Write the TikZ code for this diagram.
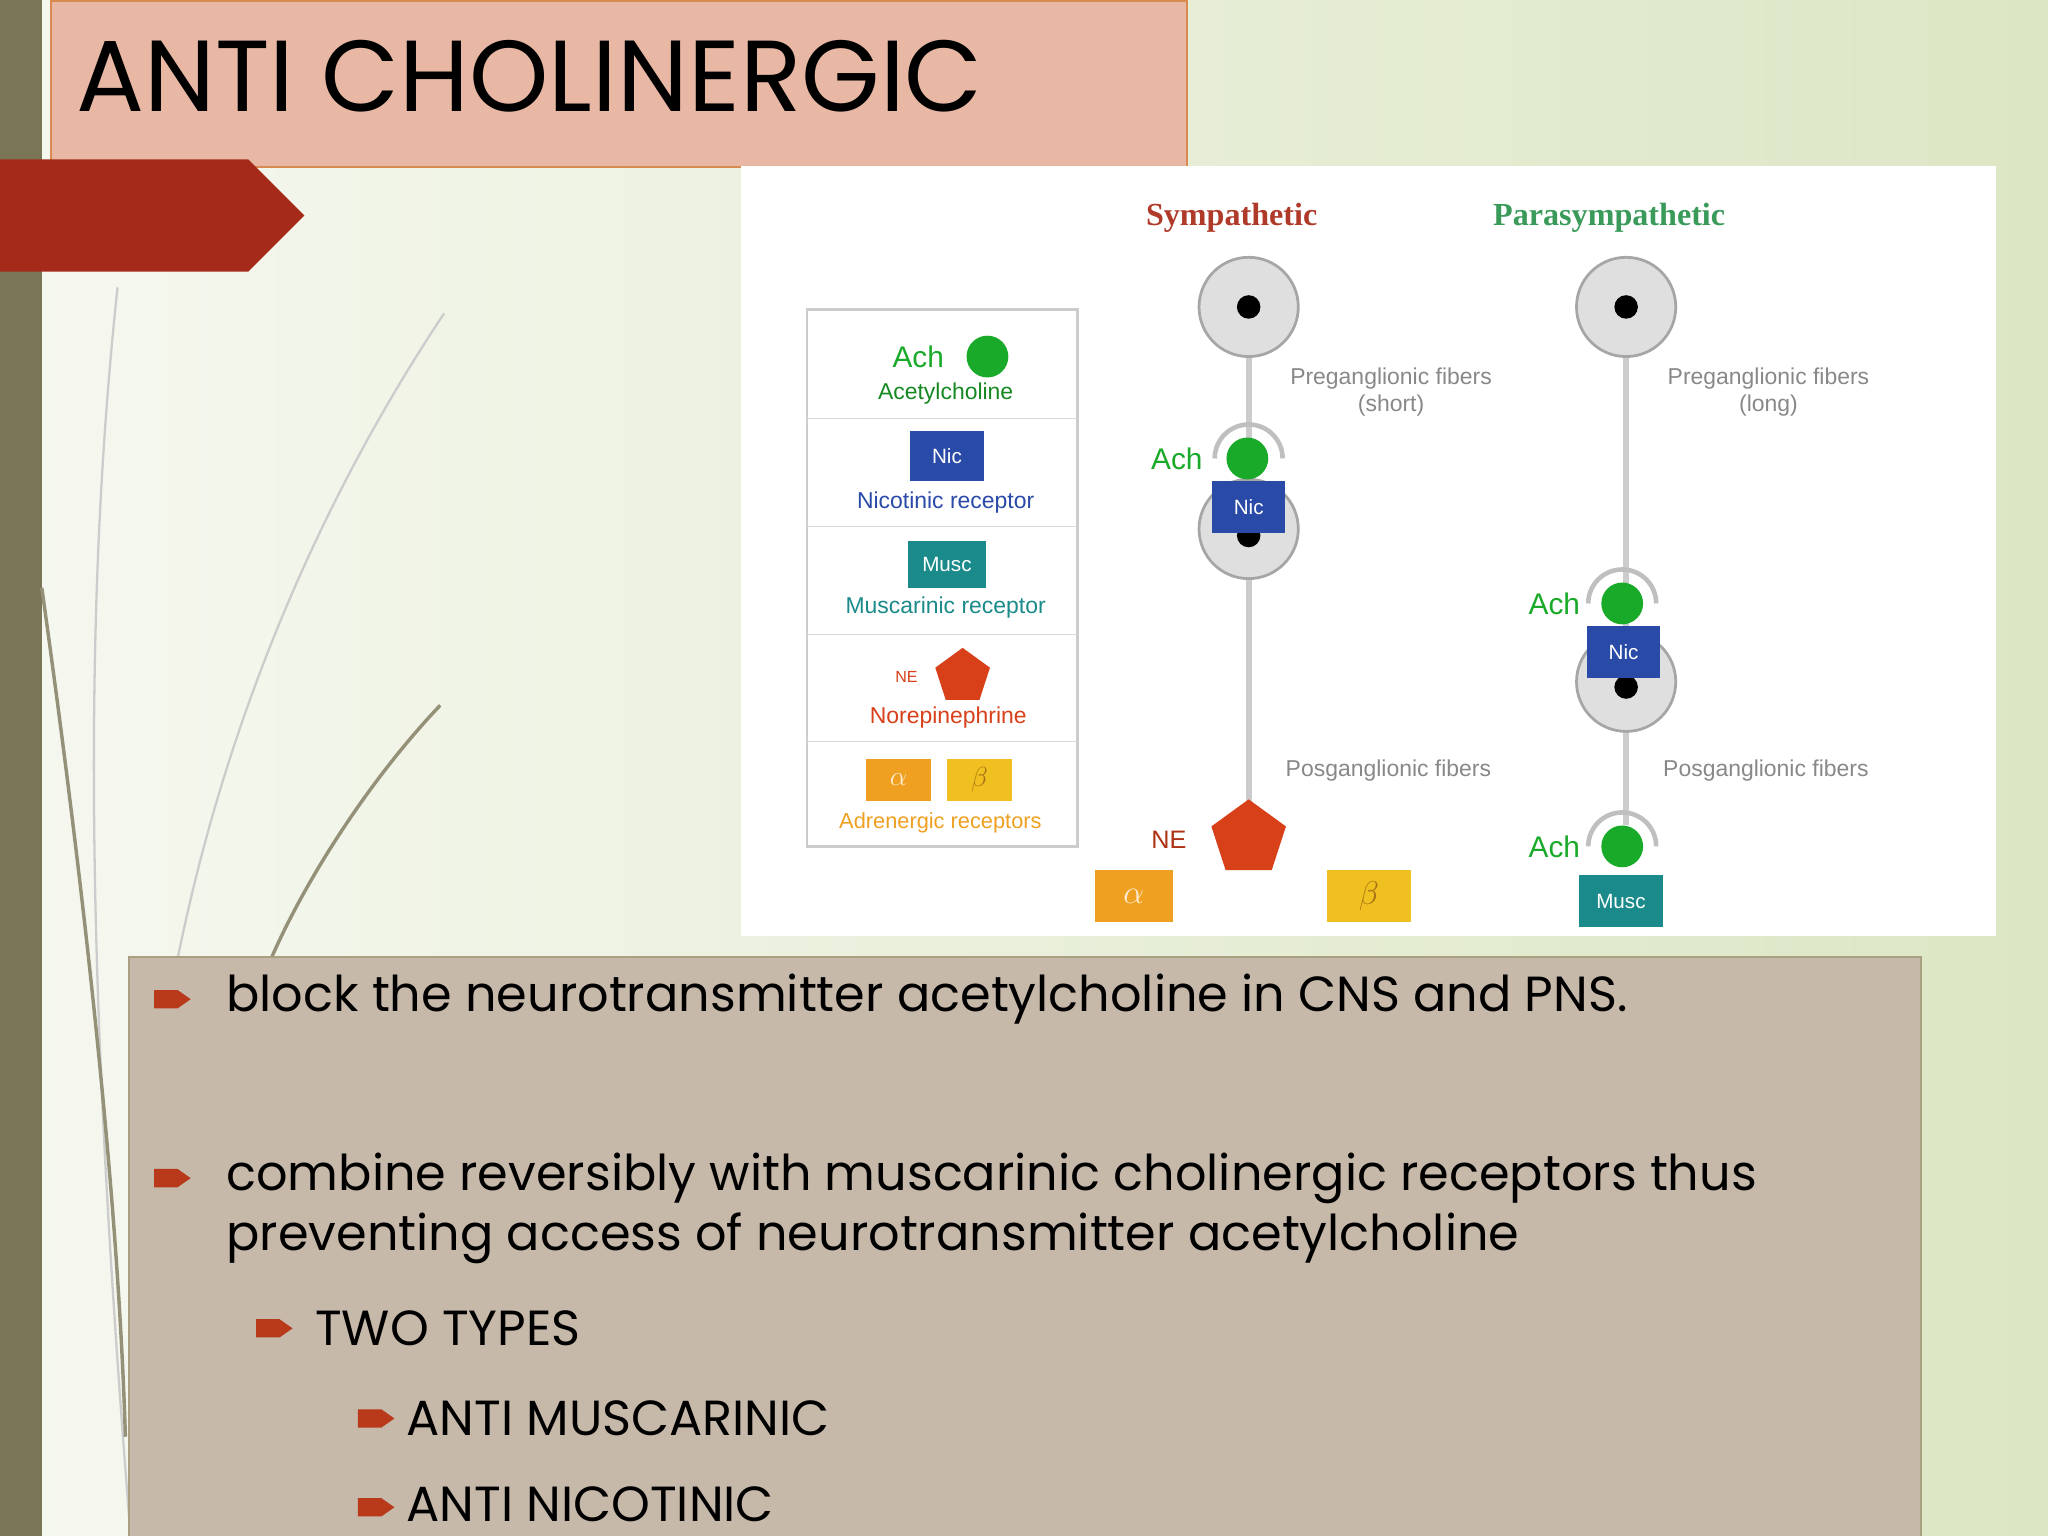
\documentclass[tikz,border=0pt]{standalone}
\usepackage{fontspec}
\setmainfont{Poppins}
\newfontfamily\dfont{Liberation Sans}
\newfontfamily\sfont{Liberation Serif}
\usetikzlibrary{shapes.geometric}
\definecolor{olive}{HTML}{7A7556}
\definecolor{titlebg}{HTML}{E8B8A4}
\definecolor{titlebd}{HTML}{D88A50}
\definecolor{redarrow}{HTML}{A52A1A}
\definecolor{boxbg}{HTML}{C7B9AA}
\definecolor{boxbd}{HTML}{A8A080}
\definecolor{bul}{HTML}{B83A1A}
\definecolor{achg}{HTML}{1AAA2A}
\definecolor{nicb}{HTML}{2A4AA8}
\definecolor{musct}{HTML}{1A8A8A}
\definecolor{ner}{HTML}{D8401A}
\definecolor{alph}{HTML}{F0A020}
\definecolor{bet}{HTML}{F0C020}
\definecolor{gtxt}{HTML}{888888}
\definecolor{symp}{HTML}{B03A2A}
\definecolor{para}{HTML}{3A9A5A}
\definecolor{bgl}{HTML}{F6F8F0}
\definecolor{bgr}{HTML}{DCE6C4}
\begin{document}
\begin{tikzpicture}[x=0.02cm,y=-0.02cm,
  neuron/.style={circle,draw=gray!70,line width=1.2,fill=gray!25,minimum size=76*0.02cm,inner sep=0},
  dot/.style={circle,fill=black,minimum size=18*0.02cm,inner sep=0},
  ach/.style={circle,fill=achg,minimum size=32*0.02cm,inner sep=0},
  rec/.style={rectangle,minimum width=56*0.02cm,minimum height=40*0.02cm,inner sep=0,text=white,font=\dfont\fontsize{9}{10}\selectfont},
  small/.style={font=\dfont\fontsize{10}{12}\selectfont,text=gtxt,align=center},
  btxt/.style={anchor=west,font=\fontsize{21.5}{26}\selectfont,inner sep=0},
  rcap/.style={gray!50,line width=2}]
\useasboundingbox (0,0) rectangle (1568,1176);
\shade[left color=bgl, right color=bgr] (0,0) rectangle (1568,1176);
\fill[olive] (0,0) rectangle (32,1176);
% grass lines
\draw[gray!40,line width=1] (90,220) .. controls (60,500) and (70,800) .. (100,1176);
\draw[gray!40,line width=1] (340,240) .. controls (200,450) and (120,700) .. (110,950);
\draw[olive!80,line width=1.5] (337,540) .. controls (280,600) and (230,680) .. (205,740);
\draw[olive!80,line width=1.5] (32,450) .. controls (60,650) and (90,900) .. (96,1100);
% title
\node[draw=titlebd,fill=titlebg,line width=1,minimum width=870*0.02cm,minimum height=127*0.02cm,anchor=north west,inner sep=0] (title) at (38,0) {};
\node[anchor=west,font=\fontsize{44}{52}\selectfont,inner sep=0] (tt) at (58,58) {ANTI CHOLINERGIC};
\fill[redarrow] (0,122) -- (190,122) -- (233,165) -- (190,208) -- (0,208) -- cycle;
% panel
\node[fill=white,minimum width=961*0.02cm,minimum height=589*0.02cm,anchor=north west,inner sep=0] (panel) at (567,127) {};
\node[font=\sfont\bfseries\fontsize{14}{17}\selectfont,text=symp] (sy) at (943,167) {Sympathetic};
\node[font=\sfont\bfseries\fontsize{14}{17}\selectfont,text=para] (pa) at (1232,167) {Parasympathetic};
% lines
\coordinate (s1) at (956,235); \coordinate (s2) at (956,640);
\coordinate (p1) at (1245,235); \coordinate (p2) at (1245,632);
\draw[gray!40,line width=2.5] (s1) -- (s2);
\draw[gray!40,line width=2.5] (p1) -- (p2);
\node[neuron] (n1) at (956,235) {}; \node[dot] at (n1) {};
\node[neuron] (n2) at (1245,235) {}; \node[dot] at (n2) {};
\node[neuron] (g1) at (956,405) {}; \node[dot] at (956,410) {};
\node[neuron] (g2) at (1245,522) {}; \node[dot] at (1245,526) {};
\node[small] at (1065,300) {Preganglionic fibers\\(short)};
\node[small] at (1354,300) {Preganglionic fibers\\(long)};
\node[small] at (1063,590) {Posganglionic fibers};
\node[small] at (1352,590) {Posganglionic fibers};
% sympathetic synapse
\draw[rcap] (930,351) arc (180:360:26);
\node[ach] (a1) at (955,351) {};
\node[font=\dfont\fontsize{13}{15}\selectfont,text=achg] at (901,351) {Ach};
\node[rec,fill=nicb] (nic1) at (956,388) {Nic};
% para synapse 1
\draw[rcap] (1216,462) arc (180:360:26);
\node[ach] (a2) at (1242,462) {};
\node[font=\dfont\fontsize{13}{15}\selectfont,text=achg] at (1190,462) {Ach};
\node[rec,fill=nicb] (nic2) at (1243,499) {Nic};
% para synapse 2
\draw[rcap] (1216,648) arc (180:360:26);
\node[ach] (a3) at (1242,648) {};
\node[font=\dfont\fontsize{13}{15}\selectfont,text=achg] at (1190,648) {Ach};
\node[rec,fill=musct,minimum width=64*0.02cm] (m1) at (1241,690) {Musc};
% NE
\node[regular polygon,regular polygon sides=5,fill=ner,minimum size=60*0.02cm,inner sep=0] (ne) at (956,642) {};
\node[font=\dfont\fontsize{11}{13}\selectfont,text=ner!80!black] at (895,643) {NE};
\node[rec,fill=alph,minimum width=60*0.02cm,font=\sfont\fontsize{14}{16}\selectfont,text=white!80!alph] (al) at (868,686) {$\alpha$};
\node[rec,fill=bet,minimum width=64*0.02cm,font=\sfont\fontsize{14}{16}\selectfont,text=alph!70!black] (be) at (1048,686) {$\beta$};
% legend
\draw[gray!40,line width=1] (618,237) rectangle (825,648);
\foreach \yy in {320,403,486,568} \draw[gray!30] (618,\yy) -- (825,\yy);
\node[font=\dfont\fontsize{13}{15}\selectfont,text=achg] at (703,273) {Ach};
\node[ach] at (756,273) {};
\node[font=\dfont\fontsize{10}{12}\selectfont,text=achg!80!black] at (724,301) {Acetylcholine};
\node[rec,fill=nicb,minimum width=56*0.02cm,minimum height=38*0.02cm] at (725,349) {Nic};
\node[font=\dfont\fontsize{10}{12}\selectfont,text=nicb] at (724,385) {Nicotinic receptor};
\node[rec,fill=musct,minimum width=60*0.02cm,minimum height=36*0.02cm] at (725,432) {Musc};
\node[font=\dfont\fontsize{10}{12}\selectfont,text=musct] at (724,465) {Muscarinic receptor};
\node[font=\dfont\fontsize{7}{8}\selectfont,text=ner] at (694,518) {NE};
\node[regular polygon,regular polygon sides=5,fill=ner,minimum size=44*0.02cm,inner sep=0] at (737,518) {};
\node[font=\dfont\fontsize{10}{12}\selectfont,text=ner] at (726,549) {Norepinephrine};
\node[rec,fill=alph,minimum width=50*0.02cm,minimum height=32*0.02cm,font=\sfont\fontsize{12}{14}\selectfont,text=white!80!alph] at (688,597) {$\alpha$};
\node[rec,fill=bet,minimum width=50*0.02cm,minimum height=32*0.02cm,font=\sfont\fontsize{12}{14}\selectfont,text=alph!70!black] at (750,597) {$\beta$};
\node[font=\dfont\fontsize{9.5}{11}\selectfont,text=alph] at (720,630) {Adrenergic receptors};
% content box
\node[draw=boxbd,fill=boxbg,line width=1,minimum width=1372*0.02cm,minimum height=460*0.02cm,anchor=north west,inner sep=0] (box) at (98,732) {};
\foreach \bx/\by in {118/765,118/902,196/1017,274/1086,274/1154}
  \fill[bul] (\bx,\by-7) -- (\bx+18,\by-7) -- (\bx+28,\by) -- (\bx+18,\by+7) -- (\bx,\by+7) -- cycle;
\node[btxt] at (173,765) {block the neurotransmitter acetylcholine in CNS and PNS.};
\node[btxt] at (173,902) {combine reversibly with muscarinic cholinergic receptors thus};
\node[btxt] at (173,948) {preventing access of neurotransmitter acetylcholine};
\node[btxt] at (241,1017) {TWO TYPES};
\node[btxt] at (311,1086) {ANTI MUSCARINIC};
\node[btxt] at (311,1152) {ANTI NICOTINIC};
\end{tikzpicture}
\end{document}
